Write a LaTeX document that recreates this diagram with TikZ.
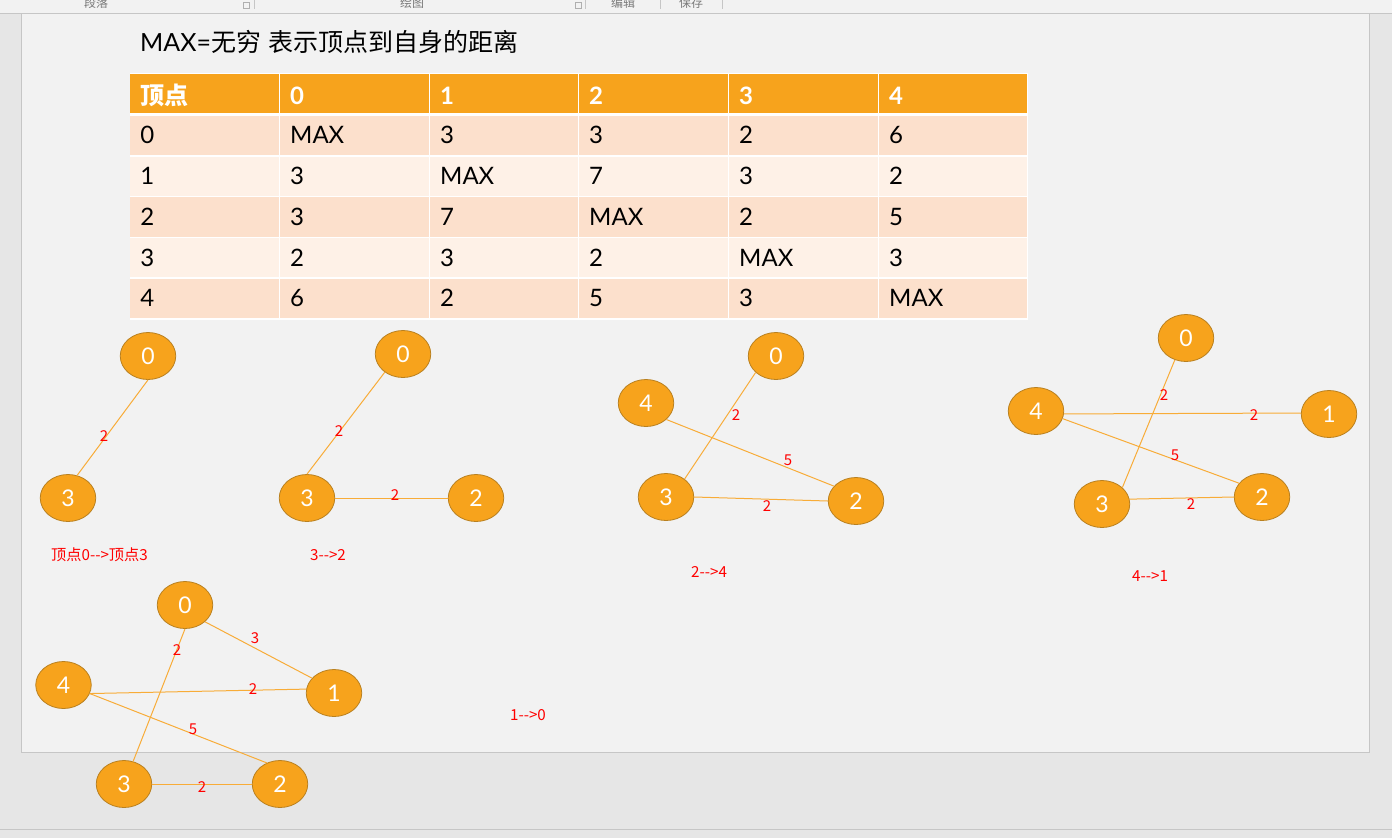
\documentclass[tikz,border=0pt]{standalone}
\usepackage{fontspec}
\usetikzlibrary{shapes.geometric}
\setmainfont{Lato}
\newfontfamily\cjk{Noto Sans CJK SC}
\definecolor{slidebg}{HTML}{F2F2F2}
\definecolor{outerbg}{HTML}{E6E6E6}
\definecolor{framec}{HTML}{C6C6C6}
\definecolor{orangef}{HTML}{F7A31C}
\definecolor{oborder}{HTML}{B9801F}
\definecolor{edgec}{HTML}{F8AC38}
\definecolor{rowa}{HTML}{FCE0CC}
\definecolor{rowb}{HTML}{FEF1E7}
\definecolor{toolgray}{HTML}{7A7A7A}
\tikzset{
  vertex/.style={ellipse,draw=oborder,line width=0.8pt,fill=orangef,text=white,
    minimum width=55.5pt,minimum height=47pt,inner sep=0pt,font=\fontsize{23}{23}\selectfont},
  edgeline/.style={draw=edgec,line width=1pt},
  elabel/.style={text=red,font=\cjk\fontsize{15}{15}\selectfont,inner sep=0pt},
  caption/.style={text=red,font=\cjk\fontsize{15.2}{16}\selectfont,inner sep=0pt},
  tool/.style={text=toolgray,font=\cjk\fontsize{12}{12}\selectfont,inner sep=0pt},
  cellbase/.style={anchor=north west,inner ysep=0pt,inner xsep=10.5pt,align=left,
    text height=17pt,text depth=0pt},
  headcell/.style={cellbase,fill=orangef,text=white,text height=23pt,font=\bfseries\fontsize{24}{24}\selectfont},
  cella/.style={cellbase,fill=rowa,text=black,font=\fontsize{24}{24}\selectfont},
  cellb/.style={cellbase,fill=rowb,text=black,font=\fontsize{24}{24}\selectfont},
}
% one table row: name, style, top, height, six cells
\newcommand{\trow}[9]{%
  \node[#2,minimum width=149.5pt,minimum height=#4pt,text width=128pt] (#1a) at (129.5,#3) {#5};
  \node[#2,minimum width=149pt,minimum height=#4pt,text width=128pt] (#1b) at (279.5,#3) {#6};
  \node[#2,minimum width=148pt,minimum height=#4pt,text width=127pt] (#1c) at (429.5,#3) {#7};
  \node[#2,minimum width=149pt,minimum height=#4pt,text width=128pt] (#1d) at (578.5,#3) {#8};
  \node[#2,minimum width=149pt,minimum height=#4pt,text width=128pt] (#1e) at (728.5,#3) {#9};
  \trowlast{#1}{#2}{#3}{#4}}
\newcommand{\trowlast}[5]{%
  \node[#2,minimum width=148.5pt,minimum height=#4pt,text width=127.5pt] (#1f) at (878.5,#3) {#5};}
\begin{document}
\begin{tikzpicture}[x=1pt,y=-1pt]
\useasboundingbox (0,0) rectangle (1392,838);
\clip (0,0) rectangle (1392,838);
% window
\fill[outerbg] (0,0) rectangle (1392,838);
\fill[slidebg] (0,0) rectangle (1392,13);
\draw[framec,line width=1pt] (0,13.5) -- (1392,13.5);
\draw[framec,line width=1pt] (0,829.5) -- (1392,829.5);
\draw[framec,line width=1pt,fill=slidebg] (21.5,13.5) rectangle (1369.5,752.5);
% ribbon remnants
\node[tool] (tb1) at (96,3) {段落};
\node[tool] (tb2) at (412,3) {绘图};
\node[tool] (tb3) at (623,3) {编辑};
\node[tool] (tb4) at (691,3) {保存};
\foreach \x in {254.5,585.5,660.5,722.5} \draw[framec,line width=1pt] (\x,0) -- (\x,9);
\foreach \x in {243,575} \draw[toolgray!60,line width=0.7pt] (\x,2.5) rectangle ++(6,6);
% title
\node[anchor=west,inner sep=0pt,font=\fontsize{25}{25}\selectfont] (title) at (140,42) {MAX={\cjk 无穷\hspace{2pt} 表示顶点到自身的距离}};
% table
\fill[white] (129.5,72.5) rectangle (1027.5,319.5);
\trow{h}{headcell}{73.5}{39.5}{{\cjk\bfseries 顶点}}{0}{1}{2}{3}{4}
\trow{r}{cella}{116}{38.5}{0}{MAX}{3}{3}{2}{6}
\trow{s}{cellb}{156.5}{39}{1}{3}{MAX}{7}{3}{2}
\trow{t}{cella}{197}{39.5}{2}{3}{7}{MAX}{2}{5}
\trow{u}{cellb}{238}{39}{3}{2}{3}{2}{MAX}{3}
\trow{v}{cella}{278.5}{39.5}{4}{6}{2}{5}{3}{MAX}
% graph 1
\node[vertex] (aO) at (148,356) {0};
\node[vertex] (aT) at (68,498) {3};
\draw[edgeline] (aO.south) -- (aT.68);
\node[elabel] (al) at (104,436.5) {2};
\node[caption] (ac) at (99.5,554.5) {顶点0-->顶点3};
% graph 2
\node[vertex] (bO) at (403,354) {0};
\node[vertex] (bT) at (307,498) {3};
\node[vertex] (bW) at (476,498) {2};
\draw[edgeline] (bO.225) -- (bT.north);
\draw[edgeline] (bT.east) -- (bW.west);
\node[elabel] (bl1) at (339,431) {2};
\node[elabel] (bl2) at (395,495.5) {2};
\node[caption] (bc) at (328,555) {3-->2};
% graph 3
\node[vertex] (cO) at (776,356) {0};
\node[vertex] (cF) at (646,403) {4};
\node[vertex] (cT) at (666,497) {3};
\node[vertex] (cW) at (856,501) {2};
\draw[edgeline] (cO.219) -- (cT.44);
\draw[edgeline] (cF.-39) -- (cW.146);
\draw[edgeline] (cT.east) -- (cW.west);
\node[elabel] (cl1) at (736,415.5) {2};
\node[elabel] (cl2) at (788,460.5) {5};
\node[elabel] (cl3) at (767,506.5) {2};
\node[caption] (cc) at (709,572) {2-->4};
% graph 4
\node[vertex] (dO) at (1186,338) {0};
\node[vertex] (dF) at (1036,411) {4};
\node[vertex] (dN) at (1329,414) {1};
\node[vertex] (dT) at (1102,504) {3};
\node[vertex] (dW) at (1262,497) {2};
\draw[edgeline] (dO.243) -- (dT.39);
\draw[edgeline] (dF.-6) -- (dN.178);
\draw[edgeline] (dF.-16.5) -- (dW.149);
\draw[edgeline] (dT.10) -- (dW.west);
\node[elabel] (dl1) at (1164,395) {2};
\node[elabel] (dl2) at (1254,415.5) {2};
\node[elabel] (dl3) at (1175,455.5) {5};
\node[elabel] (dl4) at (1191,504.5) {2};
\node[caption] (dc) at (1150,576.5) {4-->1};
% graph 5
\node[vertex] (eO) at (185,605) {0};
\node[vertex] (eN) at (334,693) {1};
\node[vertex] (eF) at (63.5,685) {4};
\node[vertex] (eT) at (124,784) {3};
\node[vertex] (eW) at (280,784) {2};
\draw[edgeline] (eO.south) -- (eT.68);
\draw[edgeline] (eO.-40) -- (eN.146);
\draw[edgeline] (eF.-18) -- (eN.172);
\draw[edgeline] (eF.-18) -- (eW.122);
\draw[edgeline] (eT.east) -- (eW.west);
\node[elabel] (el1) at (255,638) {3};
\node[elabel] (el2) at (177,650) {2};
\node[elabel] (el3) at (253,689.5) {2};
\node[elabel] (el4) at (193,729.5) {5};
\node[elabel] (el5) at (202,787) {2};
\node[caption] (ec) at (528,715.5) {1-->0};
\end{tikzpicture}
\end{document}
